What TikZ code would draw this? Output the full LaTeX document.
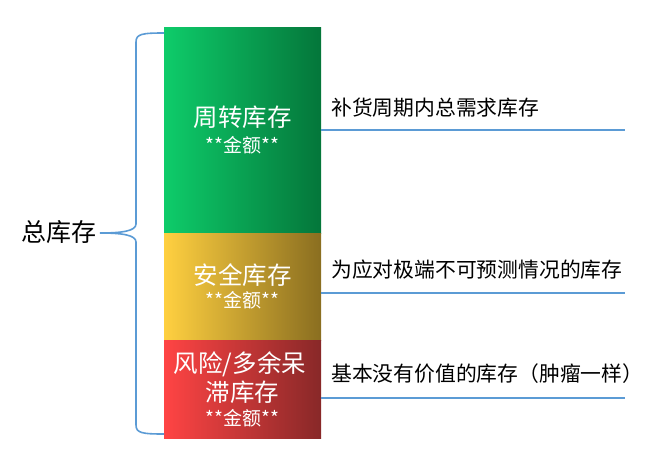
\documentclass[tikz,border=0pt]{standalone}
\usepackage{fontspec}
\setmainfont{Noto Sans CJK SC}
\definecolor{gL}{RGB}{14,204,106}
\definecolor{gR}{RGB}{4,118,58}
\definecolor{yL}{RGB}{255,208,64}
\definecolor{yR}{RGB}{138,110,32}
\definecolor{rL}{RGB}{255,68,68}
\definecolor{rR}{RGB}{136,40,40}
\definecolor{lineblue}{RGB}{91,155,213}
\tikzset{
  blk/.style={rectangle, draw=none, inner sep=0pt, minimum width=157pt},
  big/.style={text=white, font=\fontsize{24.5}{28}\selectfont, inner sep=0pt},
  small/.style={text=white, font=\fontsize{19}{22}\selectfont, inner sep=0pt},
  desc/.style={anchor=west, font=\fontsize{20.8}{24}\selectfont, inner sep=0pt},
  uline/.style={draw=lineblue, line width=2pt},
}
\begin{document}
\begin{tikzpicture}[x=1pt,y=-1pt]
\useasboundingbox (0,0) rectangle (653,463);
% blocks
\node[blk, minimum height=206pt, left color=gL, right color=gR] (green) at (242.5,130) {};
\node[blk, minimum height=107pt, left color=yL, right color=yR] (yellow) at (242.5,286.5) {};
\node[blk, minimum height=98pt, left color=rL, right color=rR] (red) at (242.5,389) {};
% block labels
\node[big] (g1) at (242.5,117) {周转库存};
\node[small] (g2) at (242.5,145) {**金额**};
\node[big] (y1) at (242.5,275) {安全库存};
\node[small] (y2) at (242.5,300) {**金额**};
\node[big] (r1) at (240,364) {风险/多余呆};
\node[big] (r2) at (242.5,392) {滞库存};
\node[small] (r3) at (242.5,418) {**金额**};
% total label
\node[font=\fontsize{25}{30}\selectfont, inner sep=0pt] (total) at (59,232) {总库存};
% brace
\coordinate (bt) at (164,33);
\coordinate (bb) at (164,434);
\coordinate (tip) at (100,233);
\draw[lineblue, line width=1.6pt]
  (bt) .. controls (142,33) and (136,34) .. (136,42) -- (136,224)
  .. controls (136,231) and (122,233) .. (tip)
  .. controls (122,233) and (136,235) .. (136,242) -- (136,425)
  .. controls (136,433) and (142,434) .. (bb);
% descriptions
\node[desc] (d1) at (331,108) {补货周期内总需求库存};
\node[desc] (d2) at (331,270) {为应对极端不可预测情况的库存};
\node[desc] (d3) at (331,374) {基本没有价值的库存（肿瘤一样）};
\coordinate (e1) at (625,130);
\coordinate (e2) at (625,293);
\coordinate (e3) at (625,398);
\draw[uline] (green.east |- e1) -- (e1);
\draw[uline] (yellow.east |- e2) -- (e2);
\draw[uline] (red.east |- e3) -- (e3);
\end{tikzpicture}
\end{document}
